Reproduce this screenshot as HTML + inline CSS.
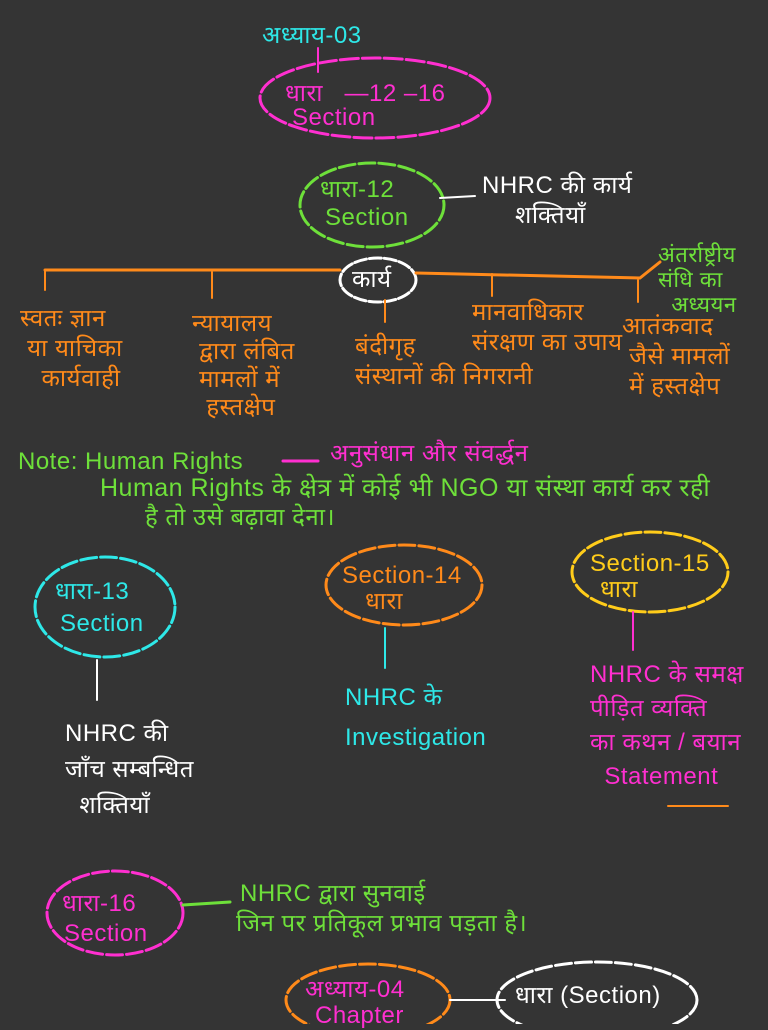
<!DOCTYPE html>
<html><head><meta charset="utf-8"><style>
body{margin:0;width:768px;height:1024px;background:#343434;overflow:hidden;position:relative;font-family:"Liberation Sans","DejaVu Sans",sans-serif}
.t{position:absolute;font-size:24px;line-height:28px;white-space:nowrap;letter-spacing:0.5px}
.o{color:#ff8a1a}.g{color:#6ee03a}.m{color:#ff2fd0}.c{color:#2ee8e8}.w{color:#fff}.y{color:#ffcc1a}
svg{position:absolute;left:0;top:0}
</style></head><body>
<svg width="768" height="1024" fill="none" stroke-width="3" stroke-linecap="round">
<ellipse cx="375" cy="98" rx="115" ry="40" stroke="#ff2fd0" stroke-dasharray="18 4"/>
<ellipse cx="372" cy="205" rx="72" ry="42" stroke="#6ee03a" stroke-dasharray="16 4"/>
<ellipse cx="378" cy="280" rx="38" ry="22" stroke="#fff" stroke-dasharray="12 3"/>
<line x1="318" y1="48" x2="318" y2="72" stroke="#ff2fd0" stroke-width="2"/>
<line x1="440" y1="198" x2="475" y2="196" stroke="#fff" stroke-width="2"/>
<path d="M45 270 L340 270 M416 273 L640 278 L660 262" stroke="#ff8a1a"/>
<path d="M45 270v20M212 272v26M385 300v22M492 274v22M638 280v22" stroke="#ff8a1a" stroke-width="2"/>
<line x1="283" y1="461" x2="318" y2="461" stroke="#ff2fd0"/>
<ellipse cx="105" cy="607" rx="70" ry="50" stroke="#2ee8e8" stroke-dasharray="16 4"/>
<ellipse cx="404" cy="585" rx="78" ry="40" stroke="#ff8a1a" stroke-dasharray="16 4"/>
<ellipse cx="650" cy="572" rx="78" ry="40" stroke="#ffcc1a" stroke-dasharray="16 4"/>
<line x1="97" y1="660" x2="97" y2="700" stroke="#fff" stroke-width="2"/>
<line x1="385" y1="628" x2="385" y2="668" stroke="#2ee8e8" stroke-width="2"/>
<line x1="633" y1="612" x2="633" y2="650" stroke="#ff2fd0" stroke-width="2"/>
<line x1="668" y1="806" x2="728" y2="806" stroke="#ff8a1a" stroke-width="2"/>
<ellipse cx="115" cy="913" rx="68" ry="42" stroke="#ff2fd0" stroke-dasharray="16 4"/>
<line x1="183" y1="905" x2="230" y2="902" stroke="#6ee03a"/>
<ellipse cx="368" cy="1000" rx="82" ry="36" stroke="#ff8a1a" stroke-dasharray="16 4"/>
<ellipse cx="597" cy="1000" rx="100" ry="38" stroke="#fff" stroke-dasharray="16 4"/>
<line x1="450" y1="1000" x2="505" y2="1000" stroke="#fff" stroke-width="2"/>
</svg>
<div class="t c" style="left:262px;top:22px">अध्याय-03</div>
<div class="t m" style="left:285px;top:80px">धारा &nbsp; —12 –16</div>
<div class="t m" style="left:292px;top:104px">Section</div>
<div class="t g" style="left:320px;top:176px">धारा-12</div>
<div class="t g" style="left:325px;top:204px">Section</div>
<div class="t w" style="left:482px;top:172px">NHRC की कार्य</div>
<div class="t w" style="left:515px;top:202px">शक्तियाँ</div>
<div class="t w" style="left:352px;top:266px">कार्य</div>
<div class="t g" style="left:658px;top:242px;line-height:25px;font-size:22px">अंतर्राष्ट्रीय<br>संधि का<br>&nbsp;&nbsp;अध्ययन</div>
<div class="t o" style="left:20px;top:304px;line-height:30px">स्वतः ज्ञान<br>&nbsp;या याचिका<br>&nbsp;&nbsp;&nbsp;कार्यवाही</div>
<div class="t o" style="left:192px;top:310px;line-height:28px">न्यायालय<br>&nbsp;द्वारा लंबित<br>&nbsp;मामलों में<br>&nbsp;&nbsp;हस्तक्षेप</div>
<div class="t o" style="left:355px;top:332px;line-height:30px">बंदीगृह<br>संस्थानों की निगरानी</div>
<div class="t o" style="left:472px;top:298px;line-height:30px">मानवाधिकार<br>संरक्षण का उपाय</div>
<div class="t o" style="left:622px;top:312px;line-height:30px">आतंकवाद<br>&nbsp;जैसे मामलों<br>&nbsp;में हस्तक्षेप</div>
<div class="t g" style="left:18px;top:448px">Note: Human Rights</div>
<div class="t m" style="left:330px;top:440px">अनुसंधान और संवर्द्धन</div>
<div class="t g" style="left:100px;top:474px;font-size:25px">Human Rights के क्षेत्र में कोई भी NGO या संस्था कार्य कर रही</div>
<div class="t g" style="left:145px;top:504px">है तो उसे बढ़ावा देना।</div>
<div class="t c" style="left:55px;top:578px">धारा-13</div>
<div class="t c" style="left:60px;top:610px">Section</div>
<div class="t o" style="left:342px;top:562px">Section-14</div>
<div class="t o" style="left:365px;top:588px">धारा</div>
<div class="t y" style="left:590px;top:550px">Section-15</div>
<div class="t y" style="left:600px;top:576px">धारा</div>
<div class="t w" style="left:65px;top:716px;line-height:36px">NHRC की<br>जाँच सम्बन्धित<br>&nbsp;&nbsp;शक्तियाँ</div>
<div class="t c" style="left:345px;top:678px;line-height:40px">NHRC के<br>Investigation</div>
<div class="t m" style="left:590px;top:658px;line-height:34px">NHRC के समक्ष<br>पीड़ित व्यक्ति<br>का कथन / बयान<br>&nbsp;&nbsp;Statement</div>
<div class="t m" style="left:62px;top:890px">धारा-16</div>
<div class="t m" style="left:64px;top:920px">Section</div>
<div class="t g" style="left:240px;top:880px">NHRC द्वारा सुनवाई</div>
<div class="t g" style="left:236px;top:910px">जिन पर प्रतिकूल प्रभाव पड़ता है।</div>
<div class="t m" style="left:305px;top:976px">अध्याय-04</div>
<div class="t m" style="left:315px;top:1002px">Chapter</div>
<div class="t w" style="left:515px;top:982px">धारा (Section)</div>
</body></html>
